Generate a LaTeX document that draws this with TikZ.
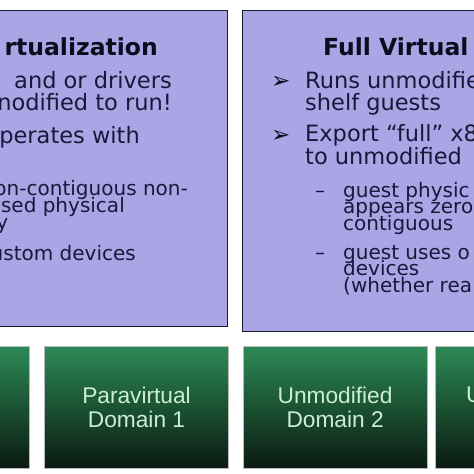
\documentclass[tikz,border=0pt]{standalone}
\usepackage{fontspec}
\setmainfont{DejaVu Sans}
\newfontfamily\domfont{Liberation Sans}
\usetikzlibrary{positioning}
\newcommand\tightlines{\lineskiplimit=-30pt\relax}

\definecolor{panelfill}{RGB}{170,166,230}
\definecolor{panelline}{RGB}{28,28,48}
\definecolor{inkc}{RGB}{24,24,58}
\definecolor{titlec}{RGB}{12,12,30}
\definecolor{domtop}{RGB}{44,138,86}
\definecolor{dommid}{RGB}{30,100,60}
\definecolor{dombot}{RGB}{10,26,16}
\definecolor{domtext}{RGB}{205,238,212}

\begin{document}
\begin{tikzpicture}[x=1pt, y=-1pt,
  panel/.style={draw=panelline, fill=panelfill, line width=1.4pt, inner sep=0pt},
  dom/.style={draw=gray!55, line width=0.6pt,
              top color=domtop, middle color=dommid, bottom color=dombot,
              minimum width=184pt, minimum height=122pt, inner sep=0pt,
              text=domtext, align=center,
              font=\domfont\fontsize{22.7}{24}\selectfont},
  domtxt/.style={text=domtext, inner sep=0pt,
                 font=\domfont\fontsize{22.7}{24}\selectfont},
  ttl/.style={font=\bfseries\fontsize{23.5}{26}\selectfont, text=titlec, inner sep=0pt},
  body/.style={font=\fontsize{22.5}{22.4}\selectfont\tightlines,
               text=inkc, inner sep=0pt, align=left},
  sub/.style={font=\fontsize{20}{16.8}\selectfont\tightlines,
              text=inkc, inner sep=0pt, align=left},
  bul/.style={font=\fontsize{23}{23}\selectfont, text=titlec, inner sep=0pt},
]

\useasboundingbox (0,0) rectangle (474,474);
\clip (0,0) rectangle (474,474);
\fill[white] (0,0) rectangle (474,474);

% === Panels (both run past the frame) ===
\node[panel, minimum width=260pt, minimum height=316pt, anchor=north east] (para) at (228,10) {};
\node[panel, minimum width=260pt, minimum height=321pt, anchor=north west] (full) at (242,10) {};

% === Left panel text (base = last line) ===
\node[ttl, anchor=base east] (paratitle) at (158,55) {rtualization};
\node[body, anchor=base east, align=right] (paraone) at (172,110.5) {and or drivers\\nodified to run!};
\node[body, anchor=base east] (paratwo) at (140,143) {perates with};
\node[sub, anchor=base east] (parasubA) at (188,195) {on-contiguous non-};
\node[sub, anchor=base east] (parasubB) at (125,212) {sed physical};
\node[sub, anchor=base east] (parasubC) at (8.5,229) {y};
\node[sub, anchor=base east] (parasubD) at (136,260) {ustom devices};

% === Right panel text ===
\node[ttl, anchor=base west] (fulltitle) at (323,55) {Full Virtual};
\node[bul, anchor=base west] (bulA) at (271,88) {➢};
\node[body, anchor=base west] (fullone) at (305,110.5) {Runs unmodifie\\shelf guests};
\node[bul, anchor=base west] (bulB) at (271,142) {➢};
\node[body, anchor=base west] (fulltwo) at (305,164) {Export “full” x8\\to unmodified};
\node[sub, anchor=base west] (dashA) at (315,197) {–};
\node[sub, anchor=base west] (fullsubA) at (343,230.6) {guest physic\\appears zero\\contiguous};
\node[sub, anchor=base west] (dashB) at (315,259) {–};
\node[sub, anchor=base west] (fullsubB) at (343,292.6) {guest uses o\\devices\\(whether rea};

% === Domain boxes (bottom row) ===
\node[dom] (domtwo) at (136.5,407) {Paravirtual\\Domain 1};
\node[dom, left=15pt of domtwo] (domone) {};
\node[dom, right=14pt of domtwo] (domthree) {Unmodified\\Domain 2};
\node[dom, right=7.5pt of domthree] (domfour) {};
\node[domtxt, anchor=base west] (domfourtxt) at (466,402) {U};

\end{tikzpicture}
\end{document}
